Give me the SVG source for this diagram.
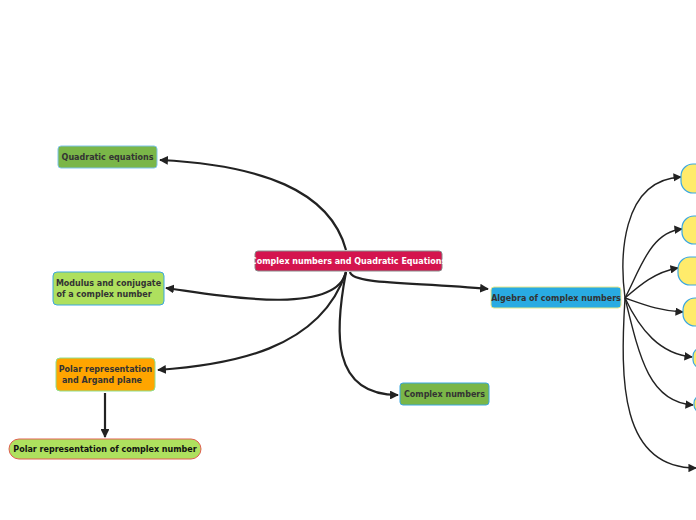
<svg xmlns="http://www.w3.org/2000/svg" width="696" height="520" viewBox="0 0 696 520">
<style>
text{font-family:"DejaVu Sans","Liberation Sans",sans-serif;font-size:8px;font-weight:bold;fill:#333;text-anchor:middle}
.e{fill:none;stroke:#222;stroke-width:2.2}
.t{fill:none;stroke:#222;stroke-width:1.4}
.y{fill:#ffeb6b;stroke:#3ba7e0;stroke-width:1.2}
</style>
<defs>
<marker id="a" viewBox="0 0 10 10" refX="9" refY="5" markerWidth="4" markerHeight="4" orient="auto" markerUnits="strokeWidth"><path d="M0,0L10,5L0,10z" fill="#222"/></marker>
<marker id="b" viewBox="0 0 10 10" refX="9" refY="5" markerWidth="6" markerHeight="6" orient="auto" markerUnits="strokeWidth"><path d="M0,0L10,5L0,10z" fill="#222"/></marker>
</defs>
<g id="connectors">
<path class="e" marker-end="url(#a)" d="M346,250C330,190 260,165 160,160"/>
<path class="e" marker-end="url(#a)" d="M346,272C335,320 200,292 166,288"/>
<path class="e" marker-end="url(#a)" d="M346,272C320,350 230,365 158,370"/>
<path class="e" marker-end="url(#a)" d="M346,272C335,330 330,395 398,395"/>
<path class="e" marker-end="url(#a)" d="M350,272C352,285 420,282 488,289"/>
<path class="e" marker-end="url(#a)" d="M105,393L105,437"/>
<path class="t" marker-end="url(#b)" d="M625,298C620,260 620,180 681,177"/>
<path class="t" marker-end="url(#b)" d="M625,298C640,270 650,232 682,229"/>
<path class="t" marker-end="url(#b)" d="M625,298C640,285 655,272 678,268"/>
<path class="t" marker-end="url(#b)" d="M625,298C645,305 660,311 683,312"/>
<path class="t" marker-end="url(#b)" d="M625,298C640,330 660,354 692,357"/>
<path class="t" marker-end="url(#b)" d="M625,298C640,360 650,402 693,405"/>
<path class="t" marker-end="url(#b)" d="M625,298C620,380 620,468 696,468"/>
</g>
<g id="center"><rect x="255" y="251" width="187" height="20" rx="3" fill="#d4144e" stroke="#888"/><text x="348.5" y="264" fill="#fff" style="fill:#fff">Complex numbers and Quadratic Equations</text></g>
<g id="quad"><rect x="58" y="146" width="99" height="22" rx="3" fill="#7ab648" stroke="#7ec4ea"/><text x="107.5" y="160">Quadratic equations</text></g>
<g id="modulus"><rect x="53" y="272" width="111" height="33" rx="4" fill="#aee05e" stroke="#3ba7e0"/><text x="108.5" y="286">Modulus and conjugate</text><text x="104" y="297">of a complex number</text></g>
<g id="polar"><rect x="56" y="358" width="99" height="33" rx="4" fill="#ffa500" stroke="#8ee08e"/><text x="105.5" y="372">Polar representation</text><text x="102" y="383">and Argand plane</text></g>
<g id="polarrep"><rect x="9" y="439" width="192" height="20" rx="10" fill="#aee05e" stroke="#e06050"/><text x="105" y="452" style="fill:#111">Polar representation of complex number</text></g>
<g id="complex"><rect x="400" y="383" width="89" height="22" rx="3" fill="#7ab648" stroke="#3ba7e0"/><text x="444.5" y="397">Complex numbers</text></g>
<g id="algebra"><rect x="491" y="287" width="130" height="21" rx="3" fill="#29abe2" stroke="#e8e88a"/><text x="556" y="301">Algebra of complex numbers</text></g>
<g id="r1"><rect class="y" x="681" y="164" width="40" height="29" rx="12"/></g>
<g id="r2"><rect class="y" x="682" y="216" width="40" height="28" rx="12"/></g>
<g id="r3"><rect class="y" x="678" y="257" width="40" height="28" rx="12"/></g>
<g id="r4"><rect class="y" x="683" y="298" width="40" height="28" rx="12"/></g>
<g id="r5"><rect class="y" x="693" y="348" width="30" height="20" rx="8"/></g>
<g id="r6"><rect class="y" x="694" y="395" width="30" height="18" rx="8"/></g>
</svg>
